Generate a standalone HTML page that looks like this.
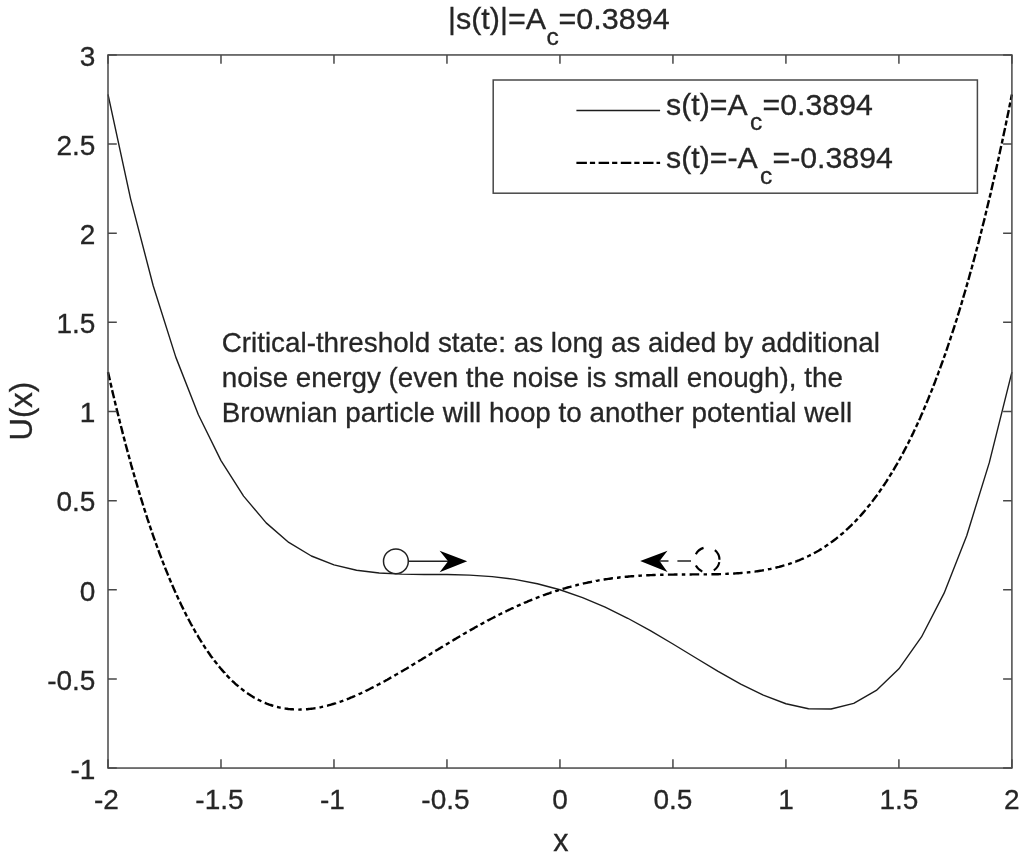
<!DOCTYPE html>
<html><head><meta charset="utf-8"><title>Potential</title>
<style>
html,body{margin:0;padding:0;background:#fff;}
body{width:1025px;height:858px;overflow:hidden;}
svg{display:block;}
text{font-family:"Liberation Sans",Arial,Helvetica,sans-serif;fill:#262626;stroke:#262626;stroke-width:0.3px;}
</style></head><body>
<svg width="1025" height="858" viewBox="0 0 1025 858">
<rect width="1025" height="858" fill="#fff"/>

<path d="M108.00,94.38 L130.60,198.84 L153.20,285.76 L175.79,357.13 L198.39,414.81 L220.99,460.57 L243.59,496.08 L266.18,522.88 L288.78,542.41 L311.38,556.02 L333.98,564.92 L356.57,570.26 L379.17,573.03 L401.77,574.16 L424.37,574.44 L446.96,574.56 L469.56,575.13 L492.16,576.61 L514.76,579.39 L537.35,583.72 L559.95,589.78 L582.55,597.60 L605.15,607.15 L627.74,618.26 L650.34,630.66 L672.94,643.98 L695.54,657.74 L718.13,671.35 L740.73,684.10 L763.33,695.21 L785.93,703.76 L808.52,708.74 L831.12,709.02 L853.72,703.37 L876.32,690.46 L898.91,668.84 L921.51,636.95 L944.11,593.15 L966.71,535.67 L989.30,462.64 L1011.90,372.07" fill="none" stroke="#1c1c1c" stroke-width="1.4" stroke-linejoin="round"/>
<path d="M108.0,372.1L109.4,378.0L109.9,380.3M110.4,382.8L110.7,383.9L111.6,387.6M112.1,390.1L113.4,395.5L114.1,398.3M114.7,400.8L114.8,401.2L115.8,405.6M116.4,408.1L117.5,412.4L118.5,416.3M119.1,418.7L120.2,423.3L120.3,423.5M120.9,426.0L121.6,428.6L122.9,433.9L123.0,434.2M123.6,436.7L124.3,439.1L124.9,441.5M125.5,443.9L125.6,444.3L127.0,449.4L127.7,452.1M128.4,454.6L129.7,459.3M130.4,461.8L131.0,464.3L132.4,469.1L132.6,469.9M133.3,472.4L133.8,473.9L134.7,477.2M135.4,479.6L136.5,483.2L137.8,487.7M138.5,490.2L139.2,492.3L140.0,494.9M140.7,497.4L141.9,501.2L143.2,505.5M144.0,508.0L144.6,509.9L145.5,512.6M146.3,515.1L147.3,518.3L148.7,522.4L148.9,523.1M149.8,525.6L150.0,526.4L151.3,530.3M152.2,532.7L152.7,534.4L154.1,538.3L155.0,540.7M155.8,543.2L156.8,545.9L157.5,547.8M158.4,550.2L159.5,553.3L160.9,556.9L161.4,558.2M162.3,560.6L163.6,563.9L164.1,565.2M165.0,567.6L166.3,570.8L167.7,574.1L168.2,575.5M169.2,578.0L170.4,580.7L171.1,582.5M172.2,584.9L173.1,587.0L174.4,590.1L175.6,592.7M176.7,595.1L177.1,596.1L178.5,599.1L178.7,599.5M179.8,601.9L179.9,602.0L181.2,604.8L182.6,607.6L183.5,609.6M184.7,612.0L185.3,613.1L186.6,615.8L186.9,616.3M188.2,618.7L189.4,621.0L190.7,623.5L192.1,626.0L192.2,626.3M193.6,628.6L194.8,630.8L195.9,632.8M197.3,635.2L197.5,635.4L198.8,637.7L200.2,639.9L201.6,642.1L201.8,642.5M203.3,644.8L204.3,646.3L205.6,648.4L205.9,648.8M207.5,651.1L208.3,652.3L209.7,654.3L211.0,656.2L212.4,658.0L212.5,658.2M214.2,660.5L215.1,661.6L216.5,663.3L217.1,664.1M218.9,666.4L219.2,666.7L220.5,668.3L221.9,669.9L223.2,671.4L224.6,672.9L224.6,673.0M226.6,675.2L227.3,675.9L228.7,677.3L229.8,678.4M232.0,680.6L232.7,681.3L234.1,682.5L235.4,683.8L236.8,685.0L238.2,686.1L238.5,686.4M241.0,688.4L242.2,689.4L243.6,690.5L244.5,691.1M247.1,693.0L247.7,693.4L249.0,694.3L250.4,695.2L251.7,696.0L253.1,696.9L254.4,697.7L254.7,697.8M257.7,699.5L258.5,699.9L259.9,700.5L261.2,701.2L261.4,701.3M264.7,702.8L265.3,703.0L266.6,703.6L268.0,704.1L269.3,704.6L270.7,705.0L272.1,705.5L273.3,705.9M277.0,706.9L277.5,707.0L278.8,707.3L280.2,707.6L280.7,707.7M284.6,708.5L285.6,708.6L287.0,708.8L288.3,709.0L289.7,709.1L291.0,709.2L292.4,709.3L293.8,709.4L294.0,709.4M298.3,709.6L299.2,709.6L300.5,709.5L301.7,709.5M306.0,709.3L307.3,709.2L308.7,709.0L310.0,708.9L311.4,708.7L312.7,708.6L314.1,708.4L315.4,708.2L315.5,708.2M319.5,707.4L319.5,707.4L320.9,707.2L322.2,706.9L323.1,706.7M327.0,705.7L327.6,705.6L329.0,705.2L330.4,704.8L331.7,704.4L333.1,704.0L334.4,703.6L335.8,703.2L335.9,703.1M339.6,701.9L339.9,701.8L341.2,701.4L342.6,700.9L343.3,700.6M346.8,699.3L348.0,698.8L349.3,698.3L350.7,697.7L352.1,697.2L353.4,696.6L354.8,696.0L355.2,695.8M358.6,694.3L358.8,694.2L360.2,693.6L361.5,693.0L362.2,692.6M365.5,691.1L365.6,691.0L367.0,690.4L368.3,689.7L369.7,689.0L371.0,688.3L372.4,687.6L373.6,687.0M376.7,685.4L377.8,684.8L379.2,684.1L380.4,683.4M383.5,681.8L384.6,681.2L385.9,680.4L387.3,679.7L388.7,678.9L390.0,678.1L391.3,677.4M394.4,675.7L395.4,675.0L396.8,674.3L398.0,673.6M401.0,671.8L402.2,671.1L403.6,670.3L404.9,669.5L406.3,668.7L407.6,667.9L408.7,667.2M411.6,665.5L411.7,665.4L413.1,664.6L414.4,663.8L415.2,663.3M418.2,661.5L418.5,661.3L419.8,660.5L421.2,659.7L422.6,658.8L423.9,658.0L425.3,657.2L425.8,656.8M428.7,655.1L429.3,654.7L430.7,653.9L432.0,653.0L432.4,652.9M435.3,651.1L436.1,650.6L437.5,649.7L438.8,648.9L440.2,648.1L441.5,647.3L442.9,646.4L442.9,646.4M445.9,644.7L447.0,644.0L448.3,643.2L449.5,642.5M452.4,640.7L453.7,639.9L455.1,639.1L456.5,638.3L457.8,637.5L459.2,636.7L460.1,636.1M463.1,634.4L463.2,634.3L464.6,633.5L465.9,632.7L466.7,632.3M469.7,630.6L470.0,630.4L471.4,629.6L472.7,628.9L474.1,628.1L475.4,627.3L476.8,626.6L477.6,626.1M480.6,624.5L480.9,624.3L482.2,623.6L483.6,622.8L484.3,622.5M487.4,620.8L487.6,620.6L489.0,619.9L490.3,619.2L491.7,618.5L493.1,617.8L494.4,617.1L495.4,616.6M498.5,615.0L499.8,614.3L501.2,613.6L502.2,613.2M505.4,611.6L506.6,611.0L508.0,610.3L509.3,609.7L510.7,609.0L512.0,608.4L513.4,607.8L513.6,607.7M516.9,606.2L517.5,605.9L518.8,605.3L520.2,604.7L520.6,604.5M523.9,603.1L524.2,602.9L525.6,602.4L527.0,601.8L528.3,601.2L529.7,600.7L531.0,600.1L532.3,599.6M535.7,598.2L536.4,598.0L537.8,597.4L539.2,596.9L539.5,596.8M543.0,595.5L543.2,595.4L544.6,594.9L545.9,594.4L547.3,593.9L548.7,593.5L550.0,593.0L551.4,592.5L551.6,592.5M555.2,591.3L555.4,591.2L556.8,590.8L558.1,590.3L558.9,590.1M562.6,589.0L563.6,588.7L564.9,588.3L566.3,587.9L567.6,587.5L569.0,587.1L570.3,586.8L571.5,586.5M575.3,585.5L575.8,585.4L577.1,585.0L578.5,584.7L579.0,584.6M582.8,583.7L583.9,583.4L585.3,583.1L586.6,582.8L588.0,582.5L589.3,582.2L590.7,582.0L592.0,581.7M595.9,581.0L596.1,580.9L597.5,580.7L598.8,580.4L599.6,580.3M603.6,579.6L604.2,579.5L605.6,579.3L607.0,579.1L608.3,578.9L609.7,578.7L611.0,578.5L612.4,578.3L612.9,578.3M617.0,577.7L617.8,577.7L619.2,577.5L620.5,577.3L620.6,577.3M624.7,576.9L625.9,576.8L627.3,576.7L628.6,576.5L630.0,576.4L631.4,576.3L632.7,576.2L634.1,576.1L634.2,576.1M638.4,575.8L639.5,575.7L640.8,575.6L641.9,575.5M646.2,575.3L646.3,575.3L647.6,575.2L649.0,575.2L650.3,575.1L651.7,575.1L653.1,575.0L654.4,575.0L655.7,574.9M660.1,574.8L661.2,574.8L662.5,574.7L663.5,574.7M667.9,574.6L668.0,574.6L669.3,574.6L670.7,574.6L672.0,574.6L673.4,574.6L674.7,574.5L676.1,574.5L677.5,574.5L677.5,574.5M681.8,574.5L682.9,574.5L684.2,574.5L685.3,574.5M689.6,574.5L689.7,574.5L691.0,574.5L692.4,574.4L693.7,574.4L695.1,574.4L696.4,574.4L697.8,574.4L699.2,574.4L699.2,574.4M703.6,574.4L704.6,574.4L705.9,574.4L707.0,574.4M711.4,574.3L712.7,574.3L714.1,574.2L715.4,574.2L716.8,574.2L718.1,574.2L719.5,574.1L720.8,574.1L721.0,574.1M725.3,573.9L726.3,573.9L727.6,573.8L728.8,573.8M733.1,573.6L734.4,573.5L735.8,573.4L737.1,573.3L738.5,573.2L739.8,573.1L741.2,573.0L742.5,572.9L742.6,572.9M746.8,572.5L748.0,572.4L749.3,572.2L750.4,572.1M754.5,571.6L754.7,571.6L756.1,571.4L757.5,571.2L758.8,571.0L760.2,570.8L761.5,570.6L762.9,570.3L763.9,570.2M767.9,569.4L768.3,569.3L769.7,569.1L771.0,568.8L771.5,568.7M775.4,567.8L776.4,567.5L777.8,567.2L779.1,566.9L780.5,566.5L781.9,566.1L783.2,565.7L784.4,565.4M788.1,564.2L788.6,564.1L790.0,563.6L791.3,563.2L791.8,563.0M795.3,561.7L795.4,561.7L796.8,561.2L798.1,560.6L799.5,560.1L800.8,559.5L802.2,558.9L803.6,558.3L803.8,558.2M807.1,556.7L807.6,556.5L809.0,555.8L810.3,555.1L810.8,554.9M813.9,553.3L814.4,553.0L815.8,552.2L817.1,551.5L818.5,550.7L819.8,549.9L821.2,549.1L821.7,548.7M824.6,546.9L825.2,546.5L826.6,545.6L828.0,544.6L828.1,544.5M830.8,542.6L832.0,541.8L833.4,540.7L834.7,539.7L836.1,538.7L837.4,537.6L837.9,537.2M840.4,535.2L841.5,534.2L842.9,533.1L843.8,532.3M846.1,530.2L846.9,529.4L848.3,528.2L849.6,526.9L851.0,525.6L852.4,524.2L852.5,524.1M854.6,522.0L855.1,521.5L856.4,520.1L857.7,518.7M859.8,516.5L860.5,515.7L861.9,514.1L863.2,512.6L864.6,511.0L865.5,509.9M867.4,507.6L868.6,506.1L870.0,504.4L870.3,504.0M872.1,501.7L872.7,500.9L874.1,499.1L875.4,497.3L876.8,495.5L877.3,494.8M878.9,492.5L879.5,491.7L880.8,489.7L881.6,488.6M883.2,486.3L883.5,485.7L884.9,483.7L886.3,481.6L887.6,479.5L887.9,479.1M889.4,476.7L890.3,475.2L891.7,473.0L891.9,472.6M893.3,470.3L894.4,468.4L895.7,466.1L897.1,463.8L897.6,462.8M899.0,460.5L899.8,459.0L901.2,456.5L901.3,456.3M902.6,453.9L903.9,451.4L905.2,448.9L906.6,446.3M907.8,443.9L908.0,443.6L909.3,440.9L910.0,439.6M911.2,437.1L912.0,435.4L913.4,432.6L914.7,429.7L914.8,429.5M916.0,427.0L916.1,426.8L917.4,423.9L918.0,422.6M919.1,420.2L920.2,417.9L921.5,414.8L922.6,412.4M923.6,410.0L924.2,408.5L925.5,405.5M926.5,403.1L926.9,402.1L928.3,398.8L929.6,395.5L929.8,395.2M930.8,392.7L931.0,392.1L932.4,388.7L932.6,388.2M933.5,385.8L933.7,385.2L935.1,381.7L936.4,378.2L936.6,377.8M937.5,375.4L937.8,374.6L939.1,370.9L939.2,370.8M940.1,368.3L940.5,367.2L941.8,363.5L943.0,360.4M943.8,357.9L944.6,355.8L945.5,353.3M946.3,350.8L947.3,348.0L948.6,344.0L949.0,342.8M949.9,340.3L950.0,340.0L951.3,335.9L951.4,335.7M952.2,333.2L952.7,331.7L954.1,327.5L954.8,325.1M955.6,322.7L956.8,319.0L957.1,318.0M957.8,315.5L958.1,314.6L959.5,310.2L960.3,307.4M961.1,305.0L962.2,301.2L962.5,300.2M963.2,297.8L963.5,296.6L964.9,292.0L965.6,289.6M966.3,287.2L967.6,282.6L967.7,282.4M968.4,280.0L969.0,277.8L970.3,272.9L970.6,271.8M971.3,269.3L971.7,268.0L972.6,264.6M973.3,262.1L974.4,258.0L975.5,253.9M976.1,251.5L977.1,247.8L977.4,246.7M978.0,244.2L978.5,242.6L979.8,237.4L980.2,236.0M980.8,233.6L981.2,232.0L982.0,228.8M982.6,226.3L983.9,221.2L984.7,218.1M985.3,215.6L986.4,210.8M987.0,208.3L987.9,204.5L989.0,200.1M989.6,197.6L990.7,193.1L990.7,192.8M991.3,190.3L992.0,187.3L993.2,182.1M993.8,179.6L994.7,175.4L994.9,174.8M995.4,172.3L996.1,169.4L997.3,164.1M997.8,161.6L998.8,157.2L998.9,156.7M999.4,154.3L1000.1,151.0L1001.2,146.0M1001.8,143.5L1002.8,138.7M1003.3,136.2L1004.2,132.0L1005.1,127.9M1005.6,125.5L1006.6,120.6M1007.1,118.1L1008.3,112.4L1008.8,109.9M1009.3,107.4L1009.6,105.7L1010.3,102.5M1010.8,100.0L1011.0,98.9L1011.9,94.4" fill="none" stroke="#000" stroke-width="2.4" stroke-linejoin="round"/>
<rect x="108.0" y="54.95" width="903.9" height="713.0999999999999" fill="none" stroke="#484848" stroke-width="1.5"/>
<path d="M108.00,768.05v-8.8M108.00,54.95v8.8M220.99,768.05v-8.8M220.99,54.95v8.8M333.98,768.05v-8.8M333.98,54.95v8.8M446.96,768.05v-8.8M446.96,54.95v8.8M559.95,768.05v-8.8M559.95,54.95v8.8M672.94,768.05v-8.8M672.94,54.95v8.8M785.92,768.05v-8.8M785.92,54.95v8.8M898.91,768.05v-8.8M898.91,54.95v8.8M1011.90,768.05v-8.8M1011.90,54.95v8.8M108.0,768.05h8.8M1011.9,768.05h-8.8M108.0,678.91h8.8M1011.9,678.91h-8.8M108.0,589.77h8.8M1011.9,589.77h-8.8M108.0,500.64h8.8M1011.9,500.64h-8.8M108.0,411.50h8.8M1011.9,411.50h-8.8M108.0,322.36h8.8M1011.9,322.36h-8.8M108.0,233.22h8.8M1011.9,233.22h-8.8M108.0,144.09h8.8M1011.9,144.09h-8.8M108.0,54.95h8.8M1011.9,54.95h-8.8" fill="none" stroke="#484848" stroke-width="1.5"/>
<text transform="translate(106.50,809.20)" font-size="28" text-anchor="middle">-2</text>
<text transform="translate(219.49,809.20)" font-size="28" text-anchor="middle">-1.5</text>
<text transform="translate(332.48,809.20)" font-size="28" text-anchor="middle">-1</text>
<text transform="translate(445.46,809.20)" font-size="28" text-anchor="middle">-0.5</text>
<text transform="translate(559.95,809.20)" font-size="28" text-anchor="middle">0</text>
<text transform="translate(672.94,809.20)" font-size="28" text-anchor="middle">0.5</text>
<text transform="translate(785.92,809.20)" font-size="28" text-anchor="middle">1</text>
<text transform="translate(898.91,809.20)" font-size="28" text-anchor="middle">1.5</text>
<text transform="translate(1011.90,809.20)" font-size="28" text-anchor="middle">2</text>
<text transform="translate(95.40,778.85)" font-size="28" text-anchor="end">-1</text>
<text transform="translate(95.40,689.71)" font-size="28" text-anchor="end">-0.5</text>
<text transform="translate(95.40,600.57)" font-size="28" text-anchor="end">0</text>
<text transform="translate(95.40,511.44)" font-size="28" text-anchor="end">0.5</text>
<text transform="translate(95.40,422.30)" font-size="28" text-anchor="end">1</text>
<text transform="translate(95.40,333.16)" font-size="28" text-anchor="end">1.5</text>
<text transform="translate(95.40,244.02)" font-size="28" text-anchor="end">2</text>
<text transform="translate(95.40,154.89)" font-size="28" text-anchor="end">2.5</text>
<text transform="translate(95.40,65.75)" font-size="28" text-anchor="end">3</text>
<text transform="translate(560.80,850.60)" font-size="30.5" text-anchor="middle">x</text>
<text transform="translate(31.80,411.20) rotate(-90)" font-size="31" text-anchor="middle">U(x)</text>
<text transform="translate(448.00,28.70) scale(1.045,1)" font-size="29.2">|s(t)|=A</text>
<text transform="translate(546.50,44.60) scale(1.045,1)" font-size="23.5">c</text>
<text transform="translate(558.50,28.70) scale(1.045,1)" font-size="29.2">=0.3894</text>
<text transform="translate(221.70,351.80)" font-size="27.8" fill="#151515">Critical-threshold state: as long as aided by additional</text>
<text transform="translate(221.70,387.10)" font-size="27.8" fill="#151515">noise energy (even the noise is small enough), the</text>
<text transform="translate(221.70,422.40)" font-size="27.8" fill="#151515">Brownian particle will hoop to another potential well</text>
<rect x="493.2" y="80" width="484.2" height="113.19999999999999" fill="#fff" stroke="#484848" stroke-width="1.5"/>
<path d="M576.4,110.5H660.1" stroke="#1c1c1c" stroke-width="1.4"/>
<path d="M576.4,162.9H660.1" stroke="#000" stroke-width="2.4" stroke-dasharray="10.5 3 5.2 3.5"/>
<text transform="translate(666.00,114.80) scale(1.045,1)" font-size="29">s(t)=A</text>
<text transform="translate(750.00,130.00) scale(1.045,1)" font-size="23.5">c</text>
<text transform="translate(762.50,114.80) scale(1.045,1)" font-size="29">=0.3894</text>
<text transform="translate(666.00,168.30) scale(1.045,1)" font-size="29">s(t)=-A</text>
<text transform="translate(760.00,183.70) scale(1.045,1)" font-size="23.5">c</text>
<text transform="translate(772.50,168.30) scale(1.045,1)" font-size="29">=-0.3894</text>
<circle cx="395.9" cy="561.3" r="12.4" fill="#fff" stroke="#222" stroke-width="1.5"/>
<path d="M408.5,561.2H448" stroke="#222" stroke-width="1.4"/>
<path d="M467.2,561.3L439.6,550.7L448.1,561.3L439.6,572.2Z" fill="#000"/>
<path d="M703.55,547.88A12.5,12.5 0 0 0 695.86,554.23M719.50,559.68A12.5,12.5 0 0 0 714.87,550.19M713.81,570.38A12.5,12.5 0 0 0 719.31,562.07M695.86,565.57A12.5,12.5 0 0 0 702.32,571.49" fill="none" stroke="#000" stroke-width="2.1"/>
<path d="M691,561H677.4M668.5,561H660" stroke="#222" stroke-width="1.4"/>
<path d="M640.2,561L667.5,550.7L659.6,561L667.5,571.9Z" fill="#000"/>
</svg></body></html>
